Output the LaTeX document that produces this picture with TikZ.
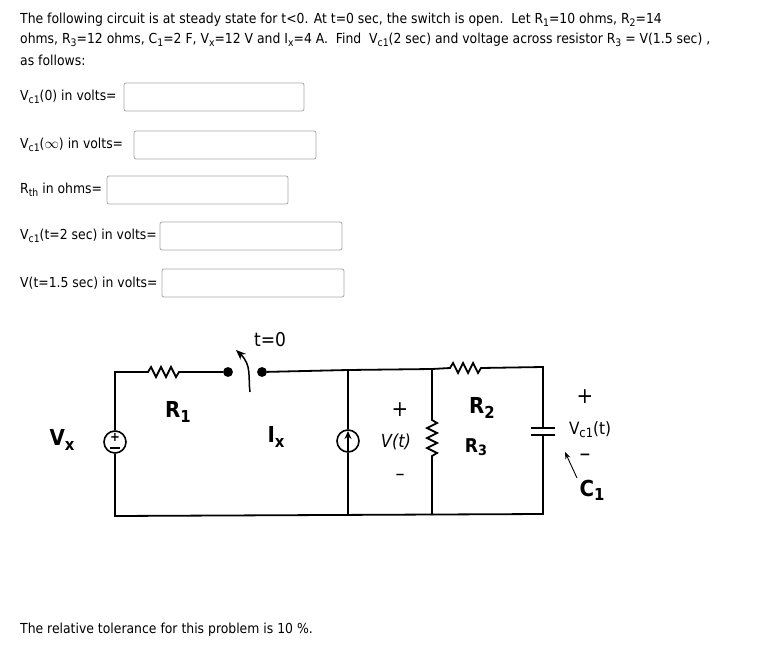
\documentclass[tikz,border=0pt]{standalone}
\usepackage{fontspec}
\setmainfont{DejaVu Sans Condensed}
\usetikzlibrary{arrows.meta}
\newcommand\sbs[1]{\raisebox{-0.35ex}{\scalebox{0.75}{#1}}}
\begin{document}
\begin{tikzpicture}[x=1pt,y=-1pt,
  txt/.style={anchor=west,inner sep=0,font=\fontsize{13.8}{15}\selectfont},
  box/.style={draw=black!35,rounded corners=2pt,line width=0.8pt},
  w/.style={line width=1.8pt},
  lab/.style={inner sep=0,font=\fontsize{22}{22}\selectfont\bfseries}]
\useasboundingbox (0,0) rectangle (762,652);
\node[txt] (t1) at (20,20) {The following circuit is at steady state for t<0. At t=0 sec, the switch is open.\ \ Let R\sbs{1}=10 ohms, R\sbs{2}=14};
\node[txt] (t2) at (20,40) {ohms, R\sbs{3}=12 ohms, C\sbs{1}=2 F, V\sbs{x}=12 V and I\sbs{x}=4 A.\ \ Find\ \ V\sbs{c1}(2 sec) and voltage across resistor R\sbs{3} = V(1.5 sec) ,};
\node[txt] (t3) at (20,60) {as follows:};
\node[txt] (q1) at (20,97) {V\sbs{c1}(0) in volts=};
\draw[box] (124,83) rectangle (304,111);
\node[txt] (q2) at (20,145) {V\sbs{c1}($\infty$) in volts=};
\draw[box] (134,131) rectangle (316,159);
\node[txt] (q3) at (20,190) {R\sbs{th} in ohms=};
\draw[box] (107,176) rectangle (288,204);
\node[txt] (q4) at (20,236) {V\sbs{c1}(t=2 sec) in volts=};
\draw[box] (160,222) rectangle (342,250);
\node[txt] (q5) at (20,283) {V(t=1.5 sec) in volts=};
\draw[box] (162,269) rectangle (344,297);
\node[txt] (tol) at (20,630) {The relative tolerance for this problem is 10 \%.};
% circuit
\coordinate (tl) at (115,372); \coordinate (bl) at (115,516);
\coordinate (br) at (543,514); \coordinate (tr) at (543,367);
\node[circle,fill,inner sep=3.5pt] (d1) at (228,372) {};
\node[circle,fill,inner sep=3.5pt] (d2) at (262,372) {};
\node[circle,draw,line width=1.6pt,minimum size=22pt,inner sep=0] (vx) at (115,442) {};
\node[circle,draw,line width=1.6pt,minimum size=22pt,inner sep=0] (ix) at (348,441) {};
\coordinate (jix) at (348,370); \coordinate (jr3) at (432,369);
\draw[w] (vx.north) -- (tl) -- (148,372) -- ++(3,-5) -- ++(5,10) -- ++(5,-10) -- ++(5,10) -- ++(5,-10) -- ++(5,10) -- ++(3,-5) -- (d1);
\draw[w] (d2) -- (jix) -- (jr3) -- (450,368) -- ++(3,-5) -- ++(5,10) -- ++(5,-10) -- ++(5,10) -- ++(5,-10) -- ++(5,10) -- ++(3,-5) -- (tr) -- (543,428);
\draw[w] (vx.south) -- (bl) -- (br) -- (543,435);
\draw[w] (531,428) -- (555,428); \draw[w] (531,435) -- (555,435);
\draw[w] (jix) -- (ix.north); \draw[w] (ix.south) -- (348,515);
\draw[w,-{Stealth[length=8pt,width=7pt]}] (348,451) -- (348,431);
\draw[w] (jr3) -- (432,420) -- ++(5,3) -- ++(-10,5) -- ++(10,5) -- ++(-10,5) -- ++(10,5) -- ++(-10,5) -- ++(10,5) -- ++(-5,3) -- (432,515);
\node[font=\fontsize{13}{13}\selectfont\bfseries] (pl) at (115,437) {+};
\draw[line width=1.4pt] (110,448) -- (120,448);
\draw[line width=1.5pt,-{Stealth[length=10pt,width=8pt]}] (250,392) .. controls (248,378) and (252,365) .. (236,350);
% labels
\node[lab] (lvx) at (62,440) {V\sbs{x}};
\node[lab] (lr1) at (178,412) {R\sbs{1}};
\node[lab] (lix) at (276,437) {I\sbs{x}};
\node[lab] (lr2) at (482,408) {R\sbs{2}};
\node[lab,font=\fontsize{19}{19}\selectfont\bfseries] (lr3) at (476,447) {R\sbs{3}};
\node[lab,font=\fontsize{19}{19}\selectfont] (lt0) at (270,340) {t=0};
\node[lab,font=\fontsize{22}{22}\selectfont] (lvp) at (400,410) {+};
\node[lab,font=\fontsize{18}{18}\selectfont\itshape] (lv) at (396,442) {V(t)};
\node[lab,font=\fontsize{20}{20}\selectfont] (lvm) at (400,477) {--};
\node[lab,font=\fontsize{22}{22}\selectfont] (lcp) at (585,397) {+};
\node[lab,font=\fontsize{17}{17}\selectfont] (lvc) at (590,430) {V\sbs{c1}(t)};
\node[lab,font=\fontsize{24}{24}\selectfont] (lcm) at (585,458) {--};
\node[lab] (lc1) at (592,490) {C\sbs{1}};
\draw[line width=0.9pt,-{Stealth[length=7pt]}] (577,478) -- (565,452);
\end{tikzpicture}
\end{document}
